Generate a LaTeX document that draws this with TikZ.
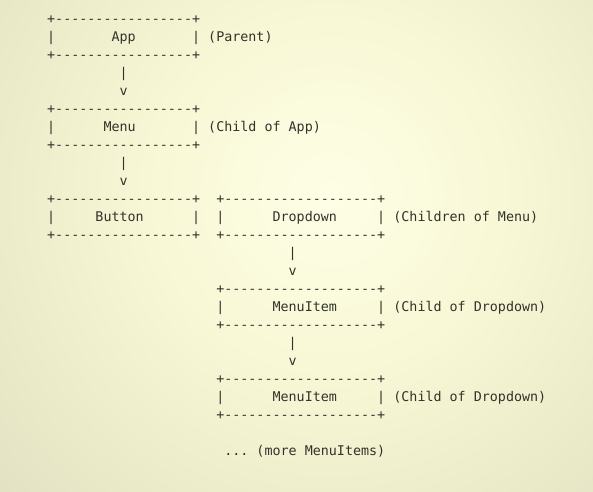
\documentclass[tikz,border=0pt]{standalone}
\usepackage{fontspec}
\setmonofont{DejaVu Sans Mono}
\usepackage{tikz}

\definecolor{ink}{RGB}{50,50,42}
\definecolor{glowa}{RGB}{254,254,230}
\definecolor{glowb}{RGB}{248,248,214}
\definecolor{glowc}{RGB}{226,226,194}
\definecolor{glowd}{RGB}{204,205,172}
\pgfdeclareradialshading{glow}{\pgfpointorigin}{color(0bp)=(glowa); color(8bp)=(glowb); color(21bp)=(glowc); color(33bp)=(glowd); color(50bp)=(glowd)}

\begin{document}
\begin{tikzpicture}[x=1pt,y=-1pt,
  ascii/.style={anchor=base west,inner sep=0pt,align=left,text=ink,
    font=\fontsize{13.37pt}{18pt}\selectfont\ttfamily}]
  \useasboundingbox (0,0) rectangle (593,491);
  \begin{scope}
    \clip (0,0) rectangle (593,491);
    \shade[shading=glow] (330,195) circle[radius=540pt];
  \end{scope}

  \node[ascii] (app) at (47,59.5) {+-----------------+\\|~~~~~~~App~~~~~~~|\\+-----------------+};
  \node[ascii] (parent) at (208,41.5) {(Parent)};
  \node[ascii] (appdown) at (119.45,95.5) {|\\v};

  \node[ascii] (menu) at (47,149.5) {+-----------------+\\|~~~~~~Menu~~~~~~~|\\+-----------------+};
  \node[ascii] (menunote) at (208,131.5) {(Child of App)};
  \node[ascii] (menudown) at (119.45,185.5) {|\\v};

  \node[ascii] (button) at (47,239.5) {+-----------------+\\|~~~~~Button~~~~~~|\\+-----------------+};
  \node[ascii] (dropdown) at (216.05,239.5) {+-------------------+\\|~~~~~~Dropdown~~~~~|\\+-------------------+};
  \node[ascii] (dropnote) at (393.15,221.5) {(Children of Menu)};
  \node[ascii] (dropdowndown) at (288.5,275.5) {|\\v};

  \node[ascii] (itema) at (216.05,329.5) {+-------------------+\\|~~~~~~MenuItem~~~~~|\\+-------------------+};
  \node[ascii] (itemanote) at (393.15,311.5) {(Child of Dropdown)};
  \node[ascii] (itemadown) at (288.5,365.5) {|\\v};

  \node[ascii] (itemb) at (216.05,419.5) {+-------------------+\\|~~~~~~MenuItem~~~~~|\\+-------------------+};
  \node[ascii] (itembnote) at (393.15,401.5) {(Child of Dropdown)};

  \node[ascii] (more) at (224.1,455.5) {... (more MenuItems)};
\end{tikzpicture}
\end{document}
